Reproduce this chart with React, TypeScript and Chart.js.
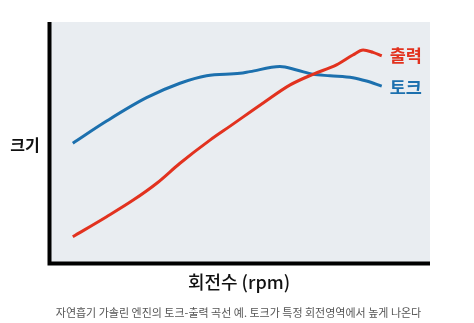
import React, { useEffect, useRef } from "react";
import { Chart, registerables } from "chart.js";

Chart.register(...registerables);

const rpmTorque = [6.0, 14.9, 25.4, 34.2, 41.2, 50.0, 52.6, 60.5, 64.9, 69.2, 73.7, 79.7, 83.3, 87.3];
const torque = [49.7, 58.9, 68.6, 74.6, 77.7, 78.7, 79.4, 81.5, 80.1, 78.3, 77.7, 76.9, 75.5, 73.4];
const rpmPower = [6.0, 14.9, 21.9, 28.1, 34.2, 42.1, 47.4, 56.1, 63.2, 69.2, 75.4, 79.7, 82.4, 85.0, 87.3];
const power = [10.9, 19.2, 26.1, 33.1, 41.4, 51.0, 56.8, 66.4, 73.9, 78.3, 82.2, 86.3, 88.4, 87.4, 86.0];

const seriesNames = ["출력", "토크"];
const xTitle = "회전수 (rpm)";
const yTitle = "크기";
const caption = "자연흡기 가솔린 엔진의 토크-출력 곡선 예. 토크가 특정 회전영역에서 높게 나온다";

const RED = "#e2321f";
const BLUE = "#1c70ae";
const FONT = '"Noto Sans CJK KR", "Noto Sans", sans-serif';

const decorPlugin = {
  id: "decor",
  beforeDatasetsDraw(chart: any) {
    const { ctx, chartArea: a } = chart;
    ctx.save();
    ctx.fillStyle = "#e9edf1";
    ctx.fillRect(a.left - 2, a.top, a.right - a.left + 2, a.bottom - a.top);
    ctx.restore();
  },
  afterDraw(chart: any) {
    const { ctx, chartArea: a } = chart;
    ctx.save();
    // axes
    ctx.strokeStyle = "#000";
    ctx.lineWidth = 4;
    ctx.beginPath();
    ctx.moveTo(a.left - 0.5, a.top);
    ctx.lineTo(a.left - 0.5, a.bottom + 0.5);
    ctx.lineTo(a.right, a.bottom + 0.5);
    ctx.stroke();

    // series labels
    const colors = [RED, BLUE];
    ctx.font = `bold 17.5px ${FONT}`;
    ctx.textBaseline = "middle";
    ctx.textAlign = "left";
    [0, 1].forEach((i) => {
      const meta = chart.getDatasetMeta(i);
      const last = meta.data[meta.data.length - 1];
      ctx.fillStyle = colors[i];
      ctx.fillText(seriesNames[i], last.x + 8, last.y + (i === 1 ? 1.5 : -0.5));
    });

    // axis titles
    ctx.fillStyle = "#111";
    ctx.textAlign = "center";
    ctx.font = `bold 16px ${FONT}`;
    ctx.fillText(yTitle, a.left - 25, (a.top + a.bottom) / 2 + 2);
    ctx.font = `500 18px ${FONT}`;
    ctx.fillText(xTitle, (a.left + a.right) / 2 - 1, a.bottom + 19);

    ctx.font = `11px ${FONT}`;
    ctx.fillStyle = "#555";
    ctx.fillText(caption, (a.left + a.right) / 2 - 1.5, a.bottom + 50);
    ctx.restore();
  },
};

export default function App() {
  const ref = useRef<HTMLCanvasElement>(null);
  useEffect(() => {
    if (!ref.current) return;
    const chart = new Chart(ref.current, {
      type: "line",
      data: {
        datasets: [
          {
            label: seriesNames[0],
            data: rpmPower.map((x, i) => ({ x, y: power[i] })),
            borderColor: RED,
            borderWidth: 3,
            pointRadius: 0,
            cubicInterpolationMode: "monotone",
            fill: false,
          },
          {
            label: seriesNames[1],
            data: rpmTorque.map((x, i) => ({ x, y: torque[i] })),
            borderColor: BLUE,
            borderWidth: 3,
            pointRadius: 0,
            cubicInterpolationMode: "monotone",
            fill: false,
          },
        ],
      },
      options: {
        animation: false,
        responsive: false,
        layout: { padding: { left: 50, right: 44, top: 22, bottom: 60 } },
        plugins: { legend: { display: false }, tooltip: { enabled: false } },
        scales: {
          x: { type: "linear", min: 0, max: 100, display: false },
          y: { type: "linear", min: 0, max: 100, display: false },
        },
      },
      plugins: [decorPlugin],
    });
    return () => chart.destroy();
  }, []);
  return (
    <div style={{ position: "fixed", left: 0, top: 0, width: 474, height: 323, background: "#fff" }}>
      <canvas ref={ref} width={474} height={323} />
    </div>
  );
}
